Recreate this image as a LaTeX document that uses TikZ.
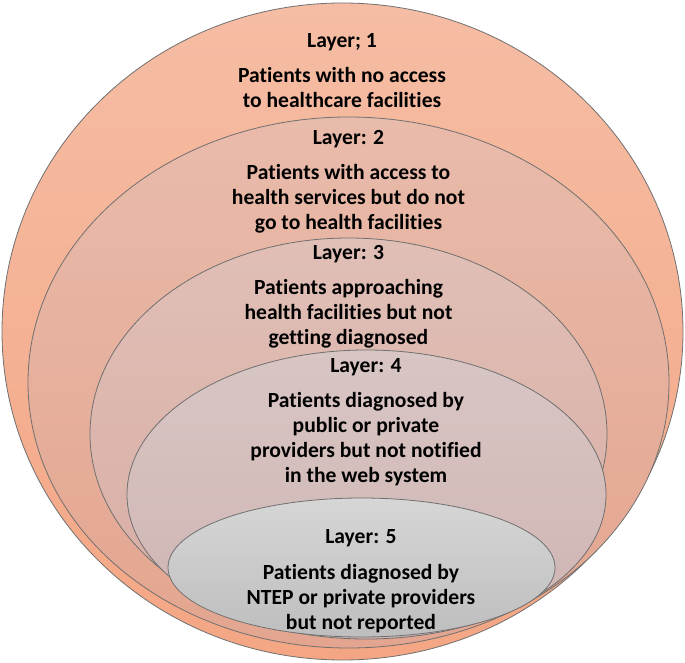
\documentclass[tikz,border=0pt]{standalone}
\usepackage{fontspec}
\setmainfont{Carlito}[Ligatures=NoCommon]
\usetikzlibrary{positioning}
\usetikzlibrary{shapes.geometric}

\definecolor{layA}{HTML}{F5BDA4}
\definecolor{layAb}{HTML}{F4A684}
\definecolor{layB}{HTML}{E9BBAB}
\definecolor{layBb}{HTML}{E3A58F}
\definecolor{layC}{HTML}{E0BFB7}
\definecolor{layCb}{HTML}{D8ADA3}
\definecolor{layD}{HTML}{D8C6C4}
\definecolor{layDb}{HTML}{CFB4B2}
\definecolor{layE}{HTML}{D6D6D6}
\definecolor{layEb}{HTML}{BEBEBE}
\definecolor{rim}{HTML}{707070}

\begin{document}
\begin{tikzpicture}[x=1pt, y=-1pt,
        layer/.style={draw=rim, line width=0.8pt, ellipse, inner sep=0pt},
        title/.style={font=\fontsize{21.6}{25}\selectfont\bfseries, inner sep=0pt},
        body/.style={font=\fontsize{21.6}{25}\selectfont\bfseries, align=center, inner sep=0pt}]
            \useasboundingbox (0,0) rectangle (685,663);

            \node[layer, top color=layA, bottom color=layAb, minimum width=681pt, minimum height=657pt] (L1) at (342.5,331.5) {};
            \node[layer, top color=layB, bottom color=layBb, minimum width=641pt, minimum height=531pt] (L2) at (348.5,382.5) {};
            \node[layer, top color=layC, bottom color=layCb, minimum width=517pt, minimum height=392pt] (L3) at (348.5,434) {};
            \node[layer, top color=layD, bottom color=layDb, minimum width=479pt, minimum height=289pt] (L4) at (366.5,494.5) {};
            \node[layer, top color=layE, bottom color=layEb, minimum width=387pt, minimum height=139pt] (L5) at (361.5,567.5) {};

            \node[title] (t1) at (342,42.5) {Layer; 1};
            \node[body, below = 15.5pt of t1] (b1) {Patients with no access\\to healthcare facilities};
            \node[title] (t2) at (348.5,139.5) {Layer: 2};
            \node[body, below = 16pt of t2] (b2) {Patients with access to\\health services but do not\\go to health facilities};
            \node[title] (t3) at (348.5,254) {Layer: 3};
            \node[body, below = 16pt of t3] (b3) {Patients approaching\\health facilities but not\\getting diagnosed};
            \node[title] (t4) at (366,367) {Layer: 4};
            \node[body, below = 16pt of t4] (b4) {Patients diagnosed by\\public or private\\providers but not notified\\in the web system};
            \node[title] (t5) at (361,538) {Layer: 5};
            \node[body, below = 17pt of t5] (b5) {Patients diagnosed by\\NTEP or private providers\\but not reported};
        \end{tikzpicture}
\end{document}
